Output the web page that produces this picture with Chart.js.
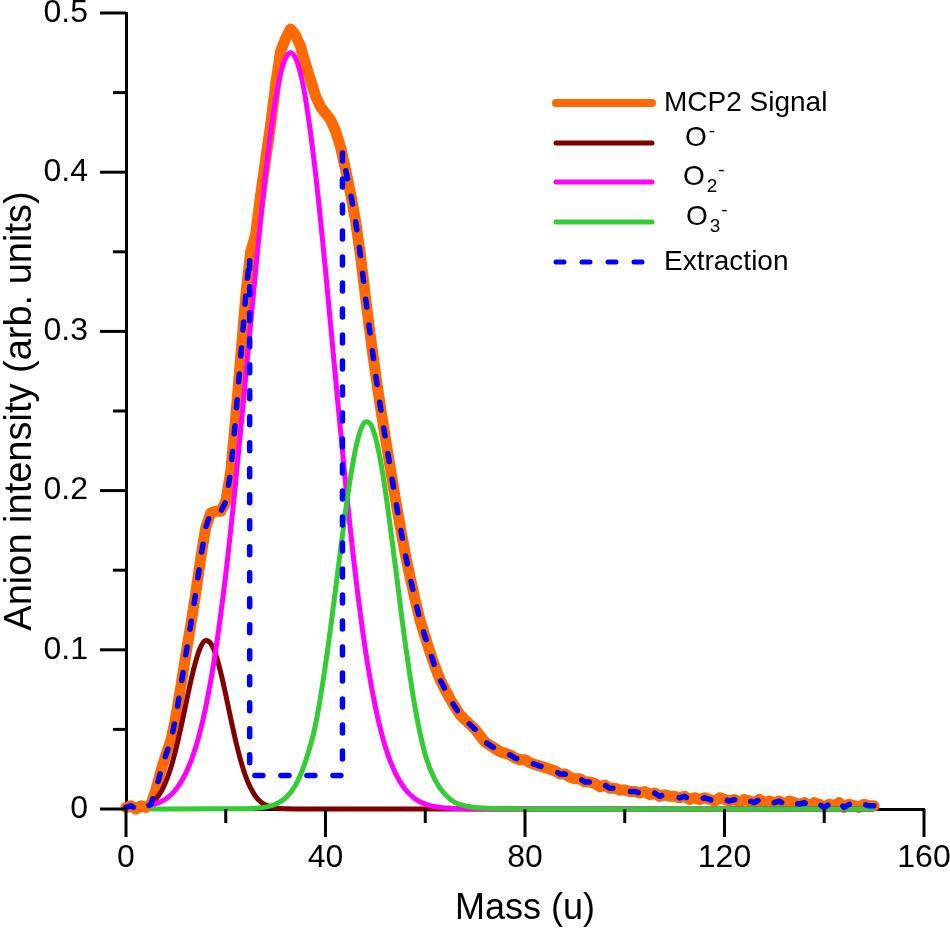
<!DOCTYPE html>
<html>
<head>
<meta charset="utf-8">
<script src="https://cdn.jsdelivr.net/npm/chart.js@4.4.1/dist/chart.umd.min.js"></script>
<style>
html,body{margin:0;padding:0;background:#ffffff;}
#wrap{width:950px;height:928px;position:relative;}
</style>
</head>
<body>
<div id="wrap"><canvas id="c" width="950" height="928"></canvas></div>
<script>
// ---------------- data ----------------
const signalMass = [0,1,2,3,4,5,6,7,8,9,10,11,12,13,14,15,16,17,18,19,20,21,22,23,24,25,26,27,28,29,30,31,32,33,34,35,36,37,38,39,40,41,42,43,44,45,46,47,48,49,50,51,52,53,54,55,56,57,58,59,60,61,62,63,64,65,66,67,68,69,70,71,72,73,74,75,76,77,78,79,80,81,82,83,84,85,86,87,88,89,90,91,92,93,94,95,96,97,98,99,100,101,102,103,104,105,106,107,108,109,110,111,112,113,114,115,116,117,118,119,120,121,122,123,124,125,126,127,128,129,130,131,132,133,134,135,136,137,138,139,140,141,142,143,144,145,146,147,148,149,150];
const signalValues = [0.001,0.002,0.000,0.002,0.001,0.003,0.012,0.024,0.034,0.043,0.058,0.077,0.097,0.116,0.136,0.158,0.177,0.186,0.187,0.187,0.193,0.212,0.246,0.284,0.322,0.350,0.361,0.386,0.408,0.430,0.455,0.476,0.484,0.490,0.486,0.479,0.468,0.458,0.448,0.441,0.437,0.433,0.426,0.416,0.402,0.387,0.370,0.348,0.322,0.297,0.274,0.253,0.233,0.214,0.195,0.177,0.160,0.145,0.131,0.118,0.108,0.098,0.089,0.081,0.075,0.069,0.064,0.059,0.056,0.053,0.050,0.046,0.042,0.040,0.038,0.036,0.035,0.034,0.032,0.031,0.031,0.029,0.028,0.027,0.026,0.025,0.024,0.022,0.022,0.020,0.019,0.019,0.017,0.017,0.016,0.014,0.015,0.013,0.013,0.012,0.012,0.011,0.011,0.010,0.011,0.009,0.010,0.008,0.009,0.008,0.008,0.007,0.008,0.006,0.007,0.006,0.007,0.006,0.005,0.007,0.006,0.005,0.006,0.004,0.006,0.005,0.004,0.006,0.004,0.005,0.004,0.005,0.003,0.005,0.004,0.003,0.004,0.002,0.004,0.003,0.001,0.003,0.002,0.004,0.001,0.003,0.002,0.001,0.003,0.002,0.002];

// extraction window (gate)
const gateStartMass = 24.8;
const gateEndMass = 43.4;
const gateTopLeft = 0.347;
const gateTopRight = 0.412;
const gateFloor = 0.021;

const oMinusMass = [5,6,7,8,9,10,11,12,13,14,15,16,17,18,19,20,21,22,23,24,25,26,27,28,30,32,35,40,150];
const oMinusValues = [0.0036,0.0064,0.0107,0.0172,0.0261,0.0375,0.051,0.0658,0.0804,0.093,0.102,0.1058,0.104,0.097,0.0857,0.0718,0.0569,0.0427,0.0304,0.0205,0.0131,0.0079,0.0045,0.0025,0.0006,0.0001,0,0,0];

const o2Mass = [5,8,10,12,14,16,18,20,22,24,26,28,30,31,32,33,34,35,36,38,40,42,44,46,48,50,52,54,56,58,60,62,66,70,150];
const o2Values = [0.0021,0.0063,0.0122,0.0225,0.039,0.0643,0.100,0.1474,0.2056,0.2712,0.3384,0.3995,0.4463,0.462,0.4717,0.475,0.4717,0.462,0.4463,0.3995,0.3384,0.2712,0.2056,0.1474,0.100,0.0643,0.039,0.0225,0.0122,0.0063,0.0031,0.0014,0.0003,0,0];

const o3Mass = [5,20,26,28,30,32,34,36,38,40,42,44,45,46,47,48,49,50,51,52,54,56,58,60,62,64,66,68,70,74,80,150];
const o3Values = [0,0.0001,0.0005,0.0012,0.003,0.007,0.015,0.030,0.053,0.0905,0.1377,0.1867,0.2082,0.2257,0.2377,0.2432,0.2418,0.2336,0.2193,0.200,0.1527,0.1039,0.063,0.0341,0.018,0.009,0.004,0.002,0.001,0.0003,0,0];

const xMajorTicks = [0,40,80,120,160];
const xMinorTicks = [20,60,100,140];
const yMajorTicks = [0,0.1,0.2,0.3,0.4,0.5];
const yMinorTicks = [0.05,0.15,0.25,0.35,0.45];

const seriesNames = ['MCP2 Signal','O-','O2-','O3-','Extraction'];

// ---------------- build library data ----------------
function pairs(xs, ys){ return xs.map((x,i)=>({x:x,y:ys[i]})); }
const signalData = pairs(signalMass, signalValues);
const extractionData = [];
signalMass.forEach((m,i)=>{ if (m < gateStartMass) extractionData.push({x:m,y:signalValues[i]}); });
extractionData.push({x:gateStartMass,y:gateTopLeft});
extractionData.push({x:gateStartMass,y:gateFloor});
extractionData.push({x:gateEndMass,y:gateFloor});
extractionData.push({x:gateEndMass,y:gateTopRight});
signalMass.forEach((m,i)=>{ if (m > gateEndMass) extractionData.push({x:m,y:signalValues[i]}); });

const FONT = "'Liberation Sans', Arial, Helvetica, sans-serif";
const COLORS = {signal:'#FF6A00', oMinus:'#800000', o2:'#FF00FF', o3:'#33CC33', extraction:'#0000FF'};
const DASH = [8,18];

// ---------------- axis tick marks (major + minor) ----------------
const tickPlugin = {
  id:'ticks',
  afterDraw(chart){
    const ctx = chart.ctx, xs = chart.scales.x, ys = chart.scales.y;
    const ca = chart.chartArea;
    ctx.save();
    ctx.strokeStyle = '#000'; ctx.lineWidth = 3; ctx.lineCap = 'butt';
    const xt = (vals,len)=>vals.forEach(v=>{const p=xs.getPixelForValue(v);ctx.beginPath();ctx.moveTo(p,ca.bottom);ctx.lineTo(p,ca.bottom+len);ctx.stroke();});
    const yt = (vals,len)=>vals.forEach(v=>{const p=ys.getPixelForValue(v);ctx.beginPath();ctx.moveTo(ca.left,p);ctx.lineTo(ca.left-len,p);ctx.stroke();});
    xt(xMajorTicks,28); xt(xMinorTicks,14);
    yt(yMajorTicks,26); yt(yMinorTicks,13);
    ctx.restore();
  }
};

// ---------------- legend with sub/superscripts ----------------
const legendPlugin = {
  id:'customLegend',
  afterDraw(chart){
    const ctx = chart.ctx;
    const x0 = 556, x1 = 652;
    const rows = [
      {y:103, color:COLORS.signal, width:8, dash:null, parts:[['MCP2 Signal','n']], tx:664},
      {y:143, color:COLORS.oMinus, width:5, dash:null, parts:[['O','n'],['-','sup']], tx:685},
      {y:182, color:COLORS.o2, width:5, dash:null, parts:[['O','n'],['2','sub'],['-','sup']], tx:683},
      {y:222, color:COLORS.o3, width:5, dash:null, parts:[['O','n'],['3','sub'],['-','sup']], tx:686},
      {y:262, color:COLORS.extraction, width:5, dash:DASH, parts:[['Extraction','n']], tx:664}
    ];
    ctx.save();
    rows.forEach((r,ri)=>{
      ctx.beginPath();
      ctx.strokeStyle = r.color; ctx.lineWidth = r.width; ctx.lineCap = 'round';
      ctx.setLineDash(r.dash ? r.dash : []);
      ctx.moveTo(x0, r.y); ctx.lineTo(x1, r.y); ctx.stroke();
      ctx.setLineDash([]);
      ctx.fillStyle = '#000'; ctx.textBaseline = 'middle'; ctx.textAlign = 'left';
      let x = r.tx;
      const ty = (ri===0||ri===4) ? r.y : r.y - 5;
      r.parts.forEach(p=>{
        if (p[1]==='n'){ ctx.font = '28px ' + FONT; ctx.fillText(p[0], x, ty); x += ctx.measureText(p[0]).width + 2; }
        else if (p[1]==='sub'){ ctx.font = '19px ' + FONT; ctx.fillText(p[0], x, ty + 10); x += ctx.measureText(p[0]).width + 1; }
        else { ctx.font = '19px ' + FONT; ctx.fillText(p[0], x, ty - 6); x += ctx.measureText(p[0]).width; }
      });
    });
    ctx.restore();
  }
};

const ctx = document.getElementById('c').getContext('2d');
new Chart(ctx, {
  type:'line',
  data:{
    datasets:[
      {label:seriesNames[4], data:extractionData, borderColor:COLORS.extraction, borderWidth:5.5, borderDash:DASH, borderCapStyle:'round', borderJoinStyle:'round', pointRadius:0, tension:0, order:0, clip:false},
      {label:seriesNames[3], data:pairs(o3Mass,o3Values), borderColor:COLORS.o3, borderWidth:5, pointRadius:0, cubicInterpolationMode:'monotone', order:1, clip:false},
      {label:seriesNames[2], data:pairs(o2Mass,o2Values), borderColor:COLORS.o2, borderWidth:5, pointRadius:0, cubicInterpolationMode:'monotone', order:2, clip:false},
      {label:seriesNames[1], data:pairs(oMinusMass,oMinusValues), borderColor:COLORS.oMinus, borderWidth:5, pointRadius:0, cubicInterpolationMode:'monotone', order:3, clip:false},
      {label:seriesNames[0], data:signalData, borderColor:COLORS.signal, borderWidth:11, borderCapStyle:'round', borderJoinStyle:'round', pointRadius:0, tension:0, order:4, clip:false}
    ]
  },
  options:{
    responsive:false, animation:false, devicePixelRatio:1,
    layout:{padding:{top:13,right:26,left:0,bottom:0}},
    plugins:{legend:{display:false}, tooltip:{enabled:false}},
    scales:{
      x:{
        type:'linear', min:0, max:160,
        ticks:{stepSize:40, color:'#000', font:{family:FONT, size:32}, padding:2, maxRotation:0, autoSkip:false},
        grid:{display:false, drawTicks:true, tickLength:28},
        border:{display:true, color:'#000', width:3},
        title:{display:true, text:'Mass (u)', color:'#000', font:{family:FONT, size:36, lineHeight:1}, padding:{top:0,bottom:1}},
        afterFit:(s)=>{ s.height = 119; s.paddingLeft = 0; s.paddingRight = 0; }
      },
      y:{
        type:'linear', min:0, max:0.5,
        ticks:{stepSize:0.1, color:'#000', font:{family:FONT, size:32}, padding:12, callback:(v)=> v===0 ? '0' : v.toFixed(1)},
        grid:{display:false, drawTicks:true, tickLength:26},
        border:{display:true, color:'#000', width:3},
        title:{display:true, text:'Anion intensity (arb. units)', color:'#000', font:{family:FONT, size:38, lineHeight:1}, padding:{top:2,bottom:0}},
        afterFit:(s)=>{ s.width = 126; s.paddingTop = 0; s.paddingBottom = 0; }
      }
    }
  },
  plugins:[tickPlugin, legendPlugin]
});
</script>
</body>
</html>
